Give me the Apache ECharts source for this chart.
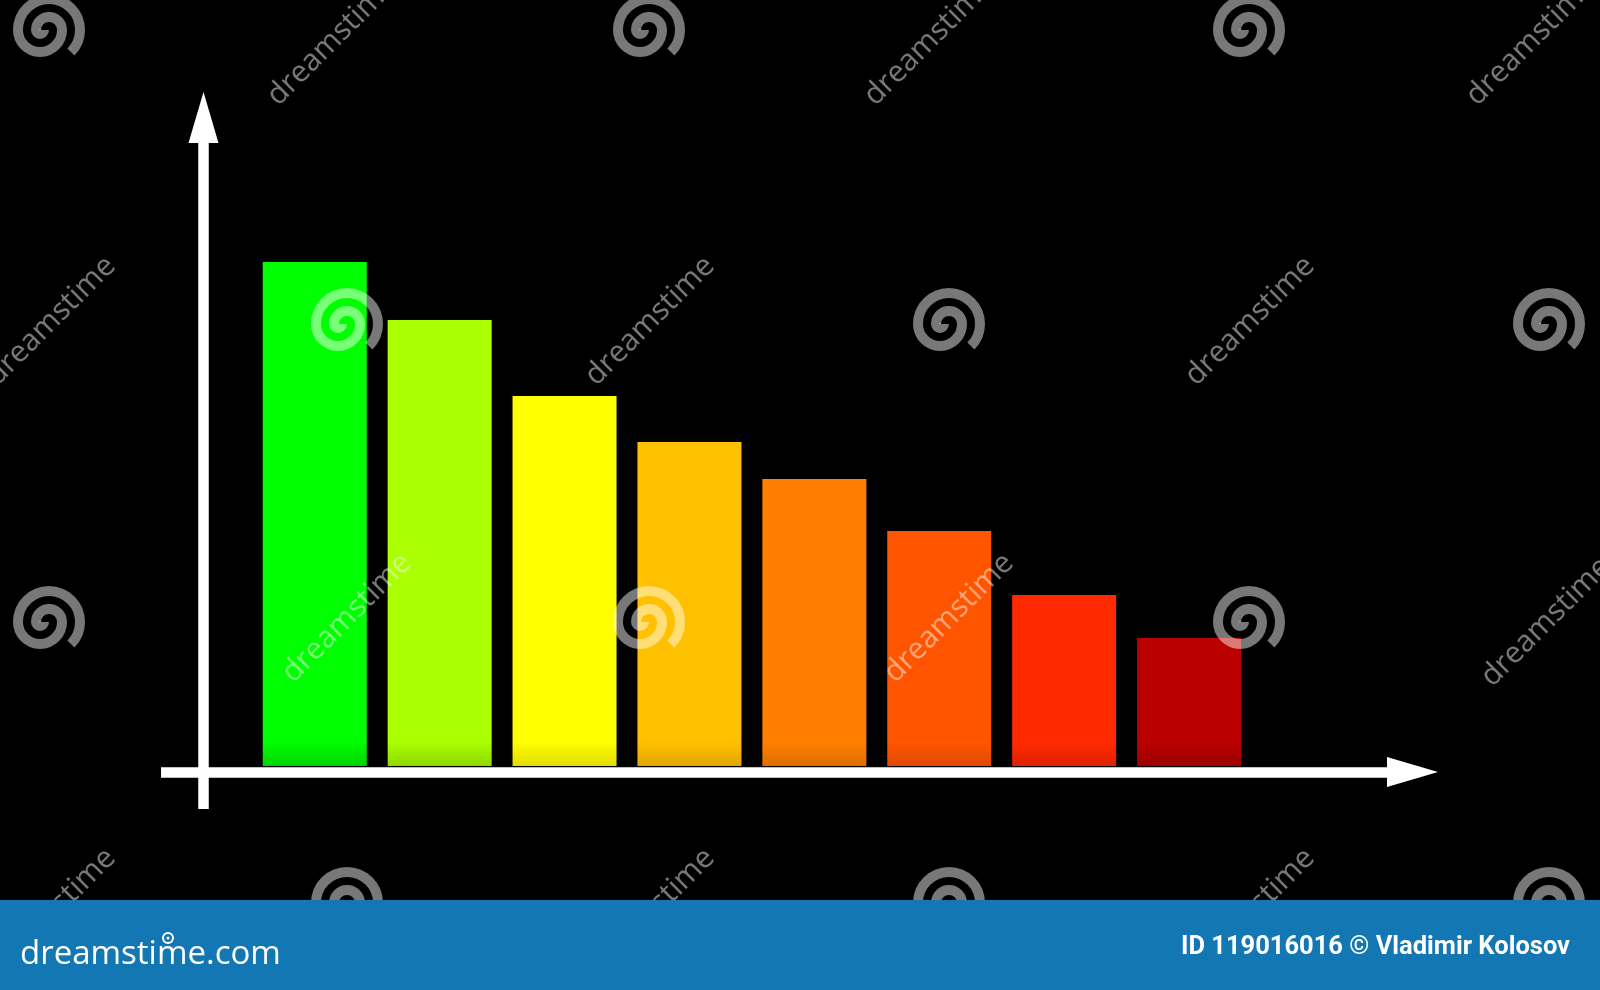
<!DOCTYPE html>
<html>
<head>
<meta charset="utf-8">
<script src="https://cdn.jsdelivr.net/npm/echarts@6/dist/echarts.min.js"></script>
<style>
  html, body { margin: 0; padding: 0; background: #000; }
  #chart { width: 1600px; height: 990px; }
</style>
</head>
<body>
<div id="chart"></div>
<script>
// ---- data ----
const categories = ['A', 'B', 'C', 'D', 'E', 'F', 'G', 'H'];
const values = [504, 446, 370, 324, 287, 235, 171, 128];
const yMax = 600;
const footerLeftText = 'dreamstime.com';
const footerRightText = 'ID 119016016 \u00A9 Vladimir Kolosov';
const watermarkText = 'dreamstime';

// ---- styles ----
const barColors  = ['#00ff00', '#aaff00', '#ffff00', '#ffc000', '#ff8000', '#ff5500', '#ff2a00', '#bb0000'];
const barShades  = ['#00d400', '#8fd800', '#e2dc00', '#e2a600', '#df6e00', '#e04a00', '#df2200', '#9c0000'];
const wmColor = 'rgba(255,255,255,0.47)';

const spiralCenters = [
  [49, 26], [649, 26], [1249, 26],
  [347, 320], [949, 320], [1549, 320],
  [49, 618], [649, 618], [1249, 618],
  [347, 899], [949, 899], [1549, 899]
];
const textCenters = [
  [332, 41], [929, 41], [1531, 41],
  [51, 321], [650, 321], [1250, 321],
  [347, 618], [949, 618], [1546, 622],
  [51, 913], [650, 913], [1250, 913]
];

function spiral(cx, cy, scale) {
  const s = scale || 1;
  const lw = 10 * s;
  const st = { stroke: wmColor, fill: null, lineWidth: lw, lineCap: 'butt' };
  const P = Math.PI;
  return {
    type: 'group', x: cx, y: cy + 4 * s, z: 100, silent: true,
    children: [
      { type: 'arc', z: 100, shape: { cx: -9 * s, cy: 0, r: 4 * s, startAngle: 0, endAngle: P, clockwise: true }, style: st },
      { type: 'arc', z: 100, shape: { cx: 0, cy: 0, r: 13 * s, startAngle: P, endAngle: 2 * P, clockwise: true }, style: st },
      { type: 'arc', z: 100, shape: { cx: -9 * s, cy: 0, r: 22 * s, startAngle: 0, endAngle: P, clockwise: true }, style: st },
      { type: 'arc', z: 100, shape: { cx: 0, cy: 0, r: 31 * s, startAngle: P, endAngle: 2 * P + P / 4, clockwise: true }, style: st }
    ]
  };
}

const graphics = [];
spiralCenters.forEach(c => graphics.push(spiral(c[0], c[1], 1)));
textCenters.forEach(c => graphics.push({
  type: 'text', x: c[0], y: c[1], rotation: Math.PI / 4, z: 100, silent: true,
  style: {
    text: watermarkText, fill: wmColor, font: '500 30px "Open Sans", sans-serif',
    align: 'center', verticalAlign: 'middle'
  }
}));
// footer
graphics.push({ type: 'rect', z: 200, silent: true, shape: { x: 0, y: 900, width: 1600, height: 90 }, style: { fill: '#1277b2' } });
graphics.push({
  type: 'text', z: 201, x: 20, y: 955, silent: true,
  style: { text: footerLeftText, fill: '#ffffff', font: '500 33px "Open Sans", sans-serif', align: 'left', verticalAlign: 'middle' }
});
graphics.push({
  type: 'circle', z: 201, silent: true, shape: { cx: 168, cy: 938, r: 5 },
  style: { fill: null, stroke: '#ffffff', lineWidth: 2 }
});
graphics.push({
  type: 'circle', z: 201, silent: true, shape: { cx: 168, cy: 938, r: 1.5 },
  style: { fill: '#ffffff' }
});
graphics.push({
  type: 'text', z: 201, x: 1570, y: 948, silent: true,
  style: { text: footerRightText, fill: '#ffffff', font: 'bold 25.5px Roboto, sans-serif', align: 'right', verticalAlign: 'middle' }
});

const axisLineStyle = { color: '#ffffff', width: 10.5, cap: 'butt' };

const option = {
  backgroundColor: '#000000',
  animation: false,
  grid: [
    { left: 252.3, top: 166, width: 999.2, height: 600 },
    { left: 161, top: 100, width: 1251.5, height: 672 },
    { left: 203.5, top: 117.5, width: 100, height: 691.5 }
  ],
  xAxis: [
    { type: 'category', gridIndex: 0, data: categories, show: false },
    {
      type: 'value', gridIndex: 1, min: 0, max: 1,
      axisLine: { show: true, onZero: false, lineStyle: axisLineStyle, symbol: ['none', 'triangle'], symbolSize: [30, 51] },
      axisTick: { show: false }, axisLabel: { show: false }, splitLine: { show: false }
    },
    { type: 'value', gridIndex: 2, min: 0, max: 1, show: false }
  ],
  yAxis: [
    { type: 'value', gridIndex: 0, min: 0, max: yMax, show: false },
    { type: 'value', gridIndex: 1, min: 0, max: 1, show: false },
    {
      type: 'value', gridIndex: 2, min: 0, max: 1,
      axisLine: { show: true, onZero: false, lineStyle: axisLineStyle, symbol: ['none', 'triangle'], symbolSize: [30, 51] },
      axisTick: { show: false }, axisLabel: { show: false }, splitLine: { show: false }
    }
  ],
  series: [{
    type: 'bar',
    xAxisIndex: 0, yAxisIndex: 0,
    barWidth: 104,
    silent: true,
    data: values.map((v, i) => ({
      value: v,
      itemStyle: {
        color: {
          type: 'linear', x: 0, y: 742, x2: 0, y2: 766, global: true,
          colorStops: [{ offset: 0, color: barColors[i] }, { offset: 1, color: barShades[i] }]
        }
      }
    }))
  }],
  graphic: graphics
};

const chart = echarts.init(document.getElementById('chart'), null, { renderer: 'canvas' });
chart.setOption(option);
</script>
</body>
</html>
